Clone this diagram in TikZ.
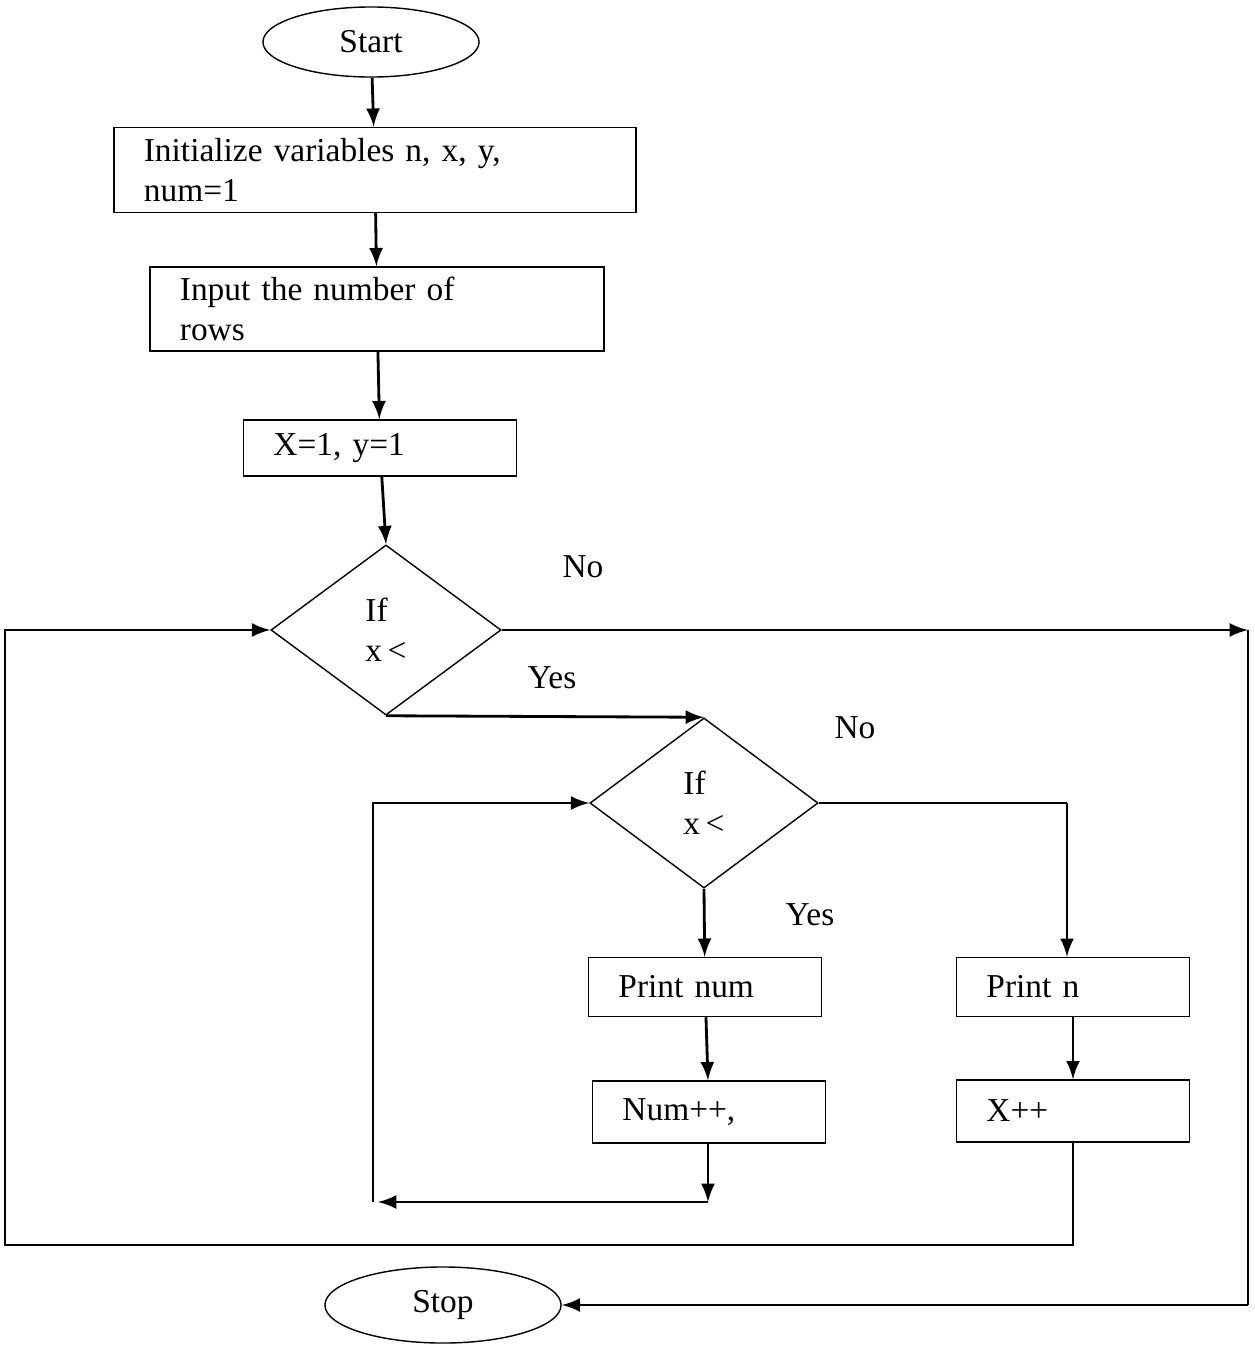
\documentclass[tikz,border=0pt]{standalone}
\usepackage{fontspec}
\setmainfont{Liberation Serif}
\usetikzlibrary{shapes.geometric,arrows}
\tikzset{
    term/.style={draw, ellipse, inner sep=0pt},
    proc/.style={draw, rectangle, align=left, inner xsep=0.3cm, inner ysep=0pt},
    cond/.style={draw, diamond, inner sep=0pt, align=left},
    flow/.style={thick, -latex},
    line/.style={thick},
    label/.style={font=\fontsize{9.5}{11}\selectfont},
}
\begin{document}
\begin{tikzpicture}[x=0.01cm, y=-0.01cm, font=\fontsize{9.5}{11.5}\selectfont]
    \useasboundingbox (0,0) rectangle (1255,1354);
    % Terminals
    \node[term, minimum width=2.16cm, minimum height=0.7cm] (start) at (371,42) {Start};
    \node[term, minimum width=2.36cm, minimum height=0.76cm] (stop) at (443,1305) {Stop};

    % Boxes
    \node[proc, text width=4.62cm, minimum height=0.85cm] (init) at (375,170) {Initialize variables n, x, y,\\ num=1};
    \node[proc, text width=3.94cm, minimum height=0.84cm] (input) at (377,309) {Input the number of\\ rows};
    \node[proc, text width=2.13cm, minimum height=0.56cm] (xy) at (380,448) {X=1, y=1};
    \node[proc, text width=1.73cm, minimum height=0.59cm] (pnum) at (705,987) {Print num};
    \node[proc, text width=1.73cm, minimum height=0.62cm] (inc) at (709,1112) {Num++,};
    \node[proc, text width=1.73cm, minimum height=0.59cm] (pn) at (1073,987) {Print n};
    \node[proc, text width=1.73cm, minimum height=0.62cm] (xinc) at (1073,1111) {X++};

    % Decisions
    \node[cond, minimum width=2.3cm, minimum height=1.7cm] (if1) at (386,630) {If\\x\,<};
    \node[cond, minimum width=2.28cm, minimum height=1.7cm] (if2) at (704,803) {If\\x\,<};

    % Labels
    \node[label] (no1) at (583,567) {No};
    \node[label] (yes1) at (552,678) {Yes};
    \node[label] (no2) at (855,728) {No};
    \node[label] (yes2) at (810,915) {Yes};

    % Helper points
    \coordinate (r1) at (1248,630);
    \coordinate (r2) at (1248,1305);
    \coordinate (n2) at (1067,803);
    \coordinate (b1) at (708,1202);
    \coordinate (b2) at (378,1202);
    \coordinate (b3) at (373,1202);
    \coordinate (b4) at (373,803);
    \coordinate (x1) at (1073,1245);
    \coordinate (x2) at (5,1245);
    \coordinate (x3) at (5,630);

    % Main flow
    \draw[flow] (start) -- (init);
    \draw[flow] (init) -- (input);
    \draw[flow] (input) -- (xy);
    \draw[flow] (xy) -- (if1.north);
    \draw[flow] (if1.east) -- (r1);
    \draw[line] (r1) -- (r2);
    \draw[flow] (r2) -- (stop.east);
    \draw[flow] (if1.south) -- (if2.north);
    \draw[line] (if2.east) -- (n2);
    \draw[flow] (n2) -- (n2 |- pn.north);
    \draw[flow] (if2.south) -- (pnum);
    \draw[flow] (pnum) -- (inc);
    \draw[flow] (pn) -- (pn |- xinc.north);
    \draw[flow] (inc.south -| b1) -- (b1);
    \draw[flow] (b1) -- (b2);
    \draw[flow] (b3) -- (b4) -- (if2.west);
    \draw[flow] (xinc.south) -- (x1) -- (x2) -- (x3) -- (if1.west);
\end{tikzpicture}
\end{document}
